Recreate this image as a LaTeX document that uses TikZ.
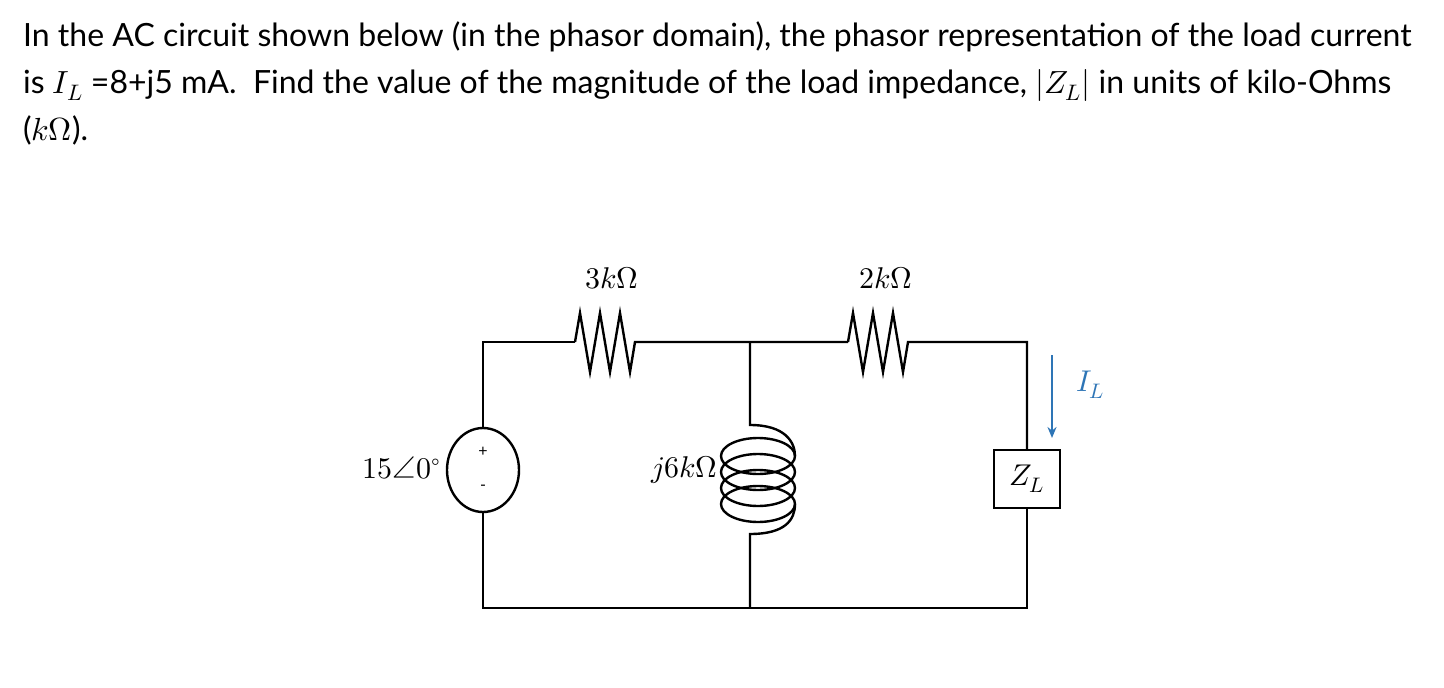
\documentclass[tikz,border=0pt]{standalone}
\usepackage{fontspec}
\setmainfont{Lato}
\usepackage{unicode-math}
\usetikzlibrary{shapes.geometric,arrows.meta}
\begin{document}
\begin{tikzpicture}[x=1pt,y=-1pt,line width=2.4pt,
  lbl/.style={font=\fontsize{30}{34}\selectfont}]
\useasboundingbox (0,0) rectangle (1444,688);
\node[anchor=north west,align=left,font=\fontsize{32}{47}\selectfont,inner sep=0] (txt) at (22,20)
{In the AC circuit shown below (in the phasor domain), the phasor representation of the load current\\
is $I_L$ =8+j5 mA.\ \ Find the value of the magnitude of the load impedance, $|Z_L|$ in units of kilo-Ohms\\
($k\Omega$).};
\coordinate (tl) at (483,342);
\coordinate (tm) at (750,342);
\coordinate (tr) at (1027,342);
\coordinate (bl) at (483,608);
\coordinate (bm) at (750,608);
\coordinate (br) at (1027,608);
\node[draw,ellipse,minimum width=72,minimum height=84,inner sep=0,line width=2.4pt] (src) at (483,470) {};
\node[font=\fontsize{16}{16}\selectfont] (plus) at (483,452) {+};
\node[font=\fontsize{16}{16}\selectfont] (minus) at (483,488) {-};
\node[lbl,anchor=east] (srcl) at (445,468) {$15\angle 0^{\circ}$};
\draw (src.north) -- (tl) -- (575,342);
\draw (src.south) -- (bl) -- (br) -- (1027,508);
\draw (575,342) -- (580,313) -- (590,372) -- (600,313) -- (610,372) -- (620,313) -- (630,372) -- (635,342) -- (tm) -- (848,342);
\node[lbl] (r1) at (612,278) {$3k\Omega$};
\draw (848,342) -- (853,313) -- (863,372) -- (873,313) -- (883,372) -- (893,313) -- (903,372) -- (908,342) -- (tr) -- (1027,450);
\node[lbl] (r2) at (886,278) {$2k\Omega$};
\draw (tm) -- (750,425) .. controls (785,425) and (795,442) .. (795,456);
\draw (795,504) .. controls (795,520) and (785,534) .. (750,534) -- (bm);
\foreach \y in {456,472,488,504} \draw (758,\y) ellipse (37 and 18);
\node[lbl,anchor=east] (ll) at (722,470) {$j6k\Omega$};
\node[draw,minimum width=66,minimum height=58,inner sep=0,line width=2.4pt,lbl] (zl) at (1027,479) {$Z_L$};
\coordinate (a1) at (1052,355);
\coordinate (a2) at (1052,438);
\draw[-{Stealth[length=11pt,width=9pt]},color={rgb,255:red,46;green,117;blue,182},line width=2.2pt] (a1) -- (a2);
\node[lbl,color={rgb,255:red,46;green,117;blue,182}] (il) at (1090,385) {$I_L$};
\end{tikzpicture}
\end{document}
